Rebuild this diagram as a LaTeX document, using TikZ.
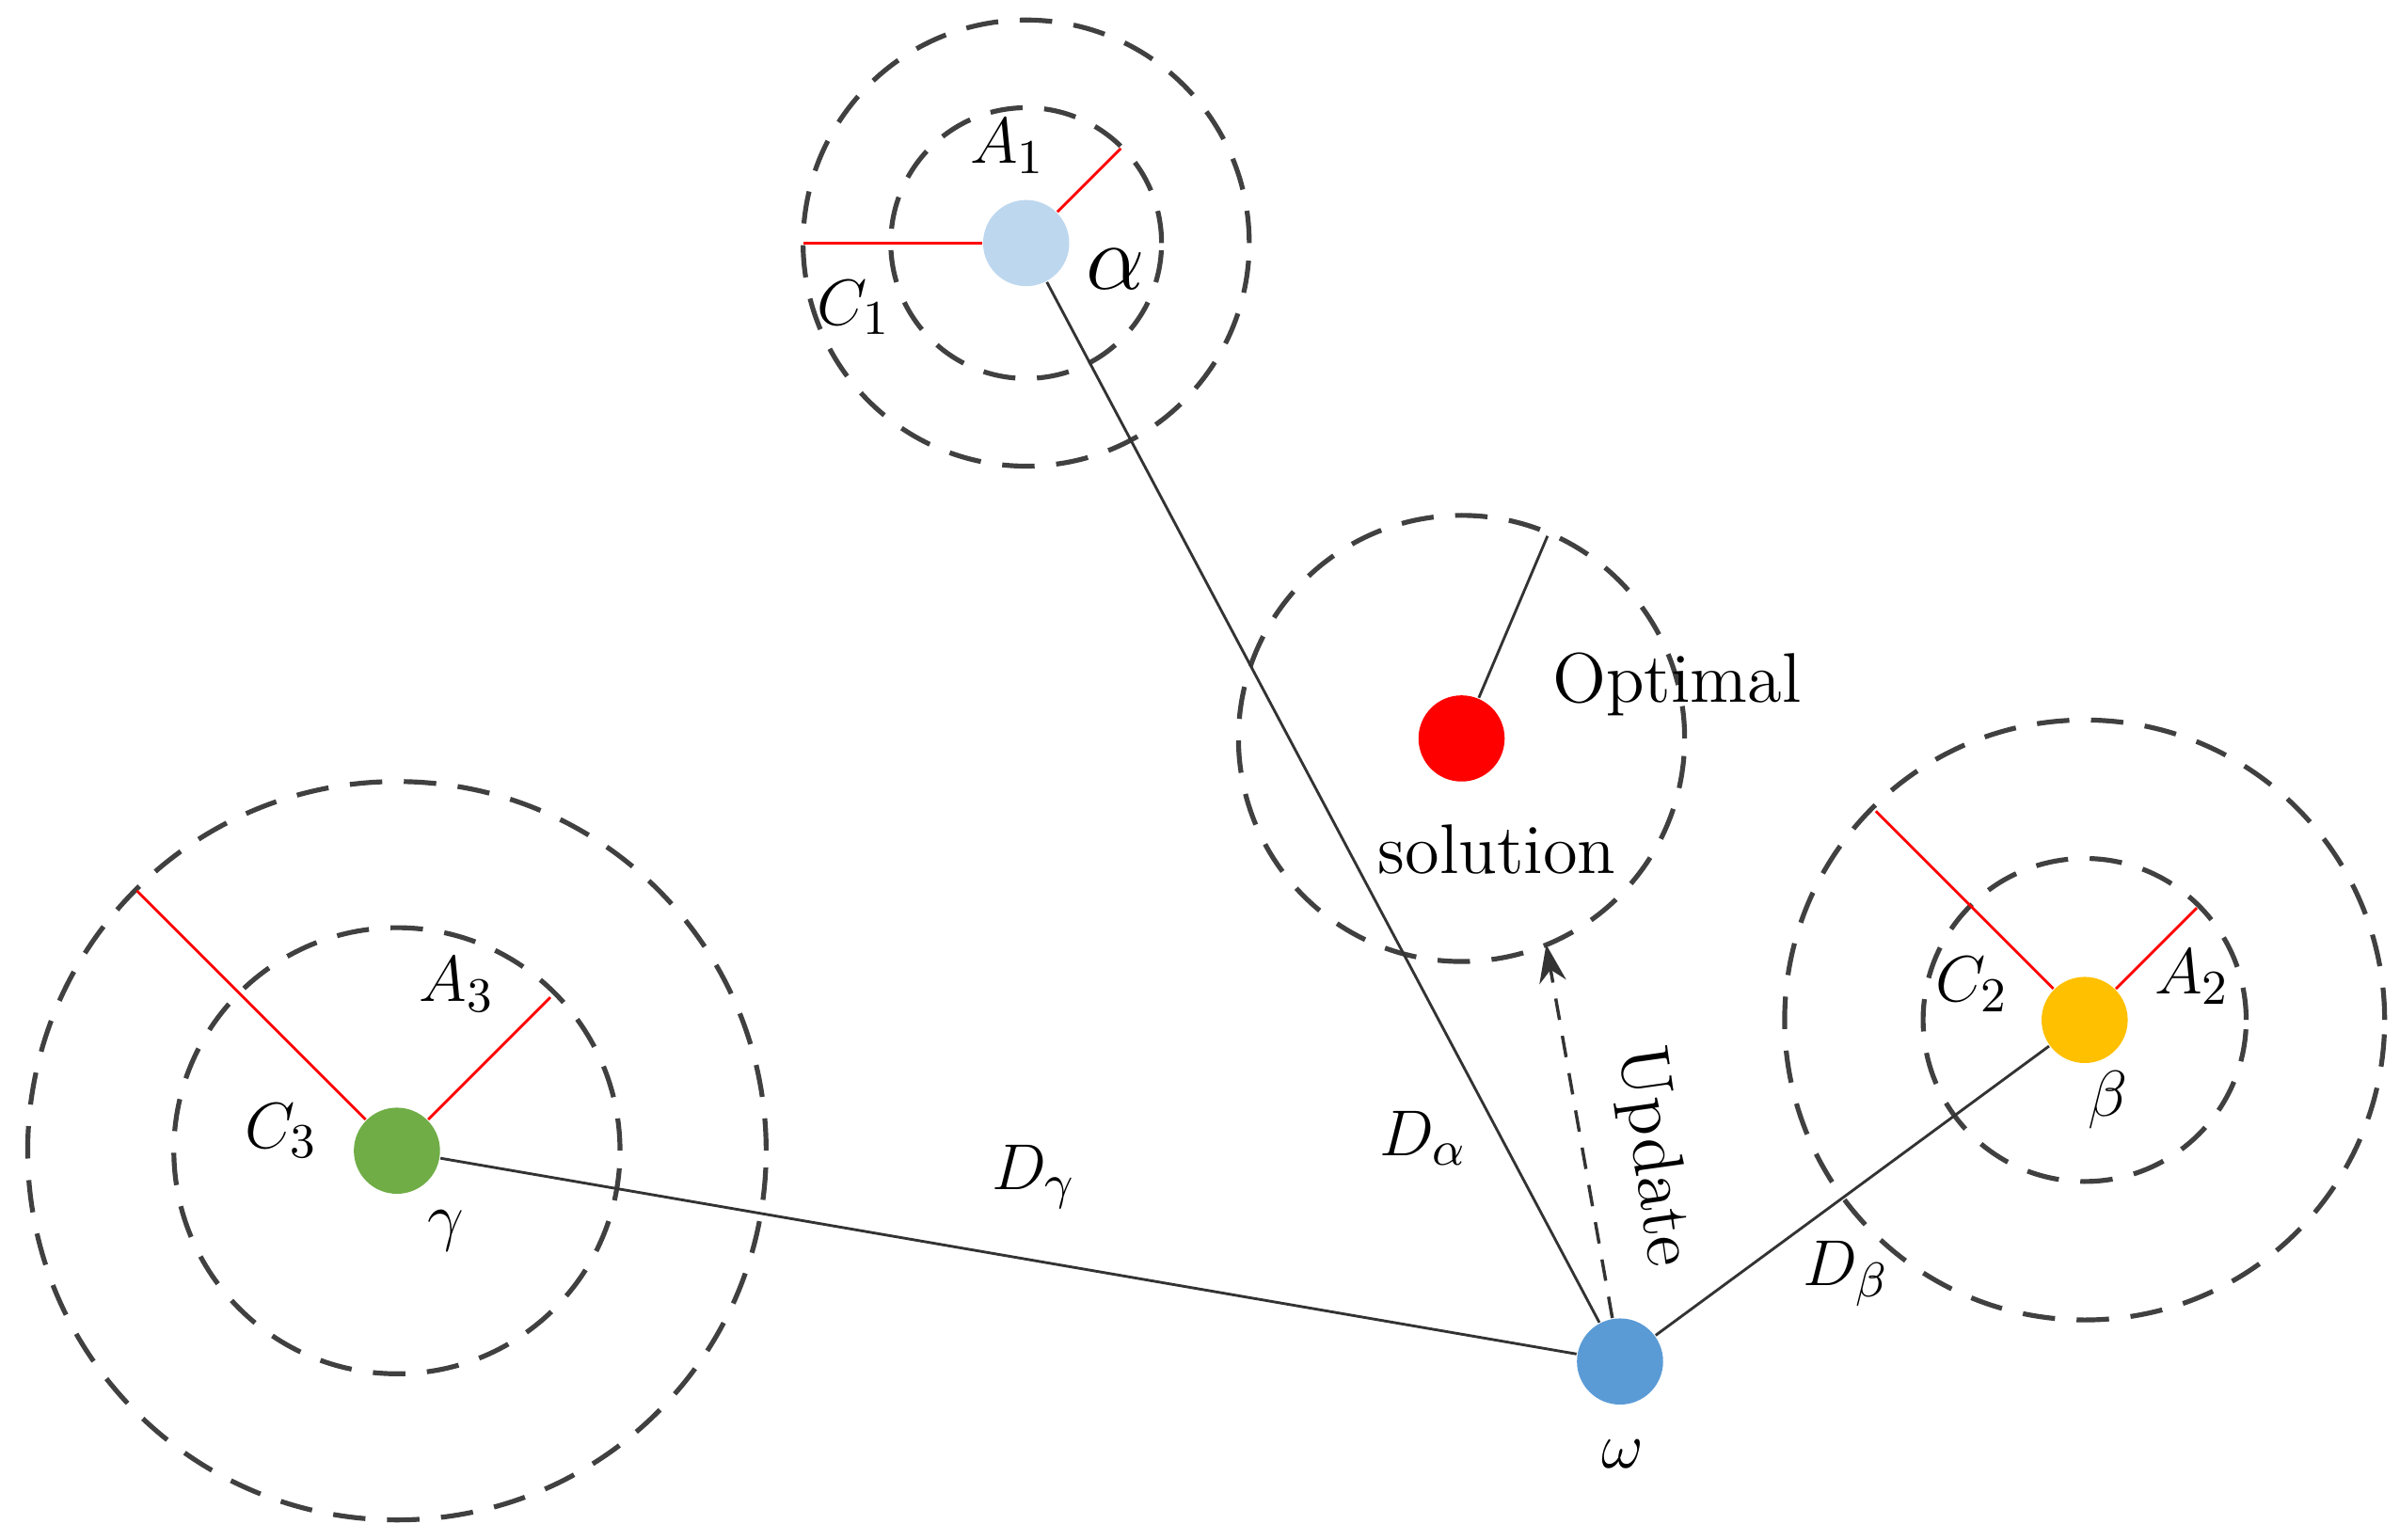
\documentclass[tikz,border=0pt]{standalone}
\usepackage{amssymb}
\usetikzlibrary{arrows.meta}
\definecolor{alphacol}{RGB}{189,215,238}
\definecolor{betacol}{RGB}{255,192,0}
\definecolor{gammacol}{RGB}{112,173,71}
\definecolor{omegacol}{RGB}{91,155,213}
\begin{document}
\begin{tikzpicture}[
  dot/.style={circle, minimum size=0.56cm, inner sep=0pt},
  ring/.style={line width=0.9pt, draw=black!75, dash pattern=on 6pt off 4pt},
  radius/.style={red, line width=0.5pt},
  link/.style={black!80, line width=0.5pt},
  lbl/.style={font=\fontsize{13}{15}\selectfont, inner sep=1pt}]
  \useasboundingbox (0,0) rectangle (15.60,-10.01);
  \node[dot, fill=alphacol] (alpha) at (6.67,-1.58) {};
  \node[dot, fill=red] (opt) at (9.50,-4.80) {};
  \node[dot, fill=betacol] (beta) at (13.55,-6.63) {};
  \node[dot, fill=gammacol] (gamma) at (2.58,-7.48) {};
  \node[dot, fill=omegacol] (omega) at (10.53,-8.85) {};
  \coordinate (upd) at (10.05,-6.14);
  % rings
  \draw[ring] (alpha.center) circle (0.88) (alpha.center) circle (1.45);
  \draw[ring] (opt.center) circle (1.45);
  \draw[ring] (beta.center) circle (1.05) (beta.center) circle (1.95);
  \draw[ring] (gamma.center) circle (1.45) (gamma.center) circle (2.40);
  % radii
  \draw[radius] (alpha) -- ++(180:1.45);
  \draw[radius] (alpha) -- ++(45:0.87);
  \draw[radius] (beta) -- ++(135:1.92);
  \draw[radius] (beta) -- ++(45:1.03);
  \draw[radius] (gamma) -- ++(135:2.39);
  \draw[radius] (gamma) -- ++(45:1.41);
  \draw[link] (opt) -- ++(67:1.43);
  % distances
  \draw[link] (omega) -- (alpha);
  \draw[link] (omega) -- (gamma);
  \draw[link] (omega) -- (beta);
  \draw[black!80, line width=0.6pt, dash pattern=on 4pt off 3pt, -{Stealth[length=7pt,width=5pt]}] (omega) -- (upd);
  % labels
  \node[lbl] at (6.55,-0.95) {$A_1$};
  \node[font=\fontsize{19}{21}\selectfont] at (7.25,-1.75) {$\alpha$};
  \node[lbl] at (5.55,-2.00) {$C_1$};
  \node[lbl] at (12.82,-6.40) {$C_2$};
  \node[lbl] at (14.25,-6.35) {$A_2$};
  \node[lbl] at (13.70,-7.15) {$\beta$};
  \node[lbl] at (2.97,-6.40) {$A_3$};
  \node[lbl] at (1.83,-7.35) {$C_3$};
  \node[lbl] at (2.90,-8.00) {$\gamma$};
  \node[lbl] at (10.55,-9.45) {$\omega$};
  \node[lbl] at (9.25,-7.40) {$D_\alpha$};
  \node[lbl] at (6.72,-7.65) {$D_\gamma$};
  \node[lbl] at (12.00,-8.28) {$D_\beta$};
  \node[lbl] at (10.90,-4.45) {Optimal};
  \node[lbl] at (9.73,-5.52) {solution};
  \node[lbl, rotate=-82] at (10.74,-7.52) {Update};
\end{tikzpicture}
\end{document}
